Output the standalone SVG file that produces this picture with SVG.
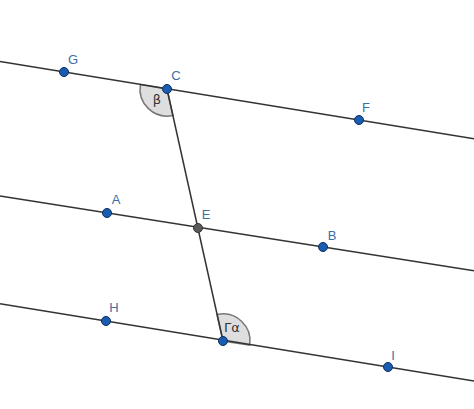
<svg xmlns="http://www.w3.org/2000/svg" width="474" height="409" viewBox="0 0 474 409">
<style>
.ln{stroke:#333;stroke-width:1.5;fill:none}
.ang{fill:#d6d6d6;fill-opacity:0.8;stroke:#777;stroke-width:1.5}
.pt{fill:#1a5cb0;stroke:#0d2f5e;stroke-width:1}
.pe{fill:#5a5a5a;stroke:#333;stroke-width:1}
.lb{font-family:"Liberation Sans",Arial,sans-serif;font-size:13px;fill:#3b6ea5;text-anchor:middle}
.al{font-family:"DejaVu Sans","Liberation Sans",sans-serif;font-size:13px;fill:#333;text-anchor:middle}
</style>
<rect width="474" height="409" fill="#fff"/>
<g id="angles">
<path class="ang" d="M167 89 L140.4 84.6 A27 27 0 0 0 172.9 115.4 Z"/>
<path class="ang" d="M223 341 L217.1 314.6 A27 27 0 0 1 249.7 345.2 Z"/>
</g>
<g id="connectors">
<line class="ln" x1="0" y1="61.6" x2="474" y2="138.7"/>
<line class="ln" x1="0" y1="196" x2="474" y2="270.7"/>
<line class="ln" x1="0" y1="303.7" x2="474" y2="381"/>
<line class="ln" x1="167" y1="89" x2="223" y2="341"/>
</g>
<g id="angle-labels">
<text class="al" x="157" y="104">β</text>
<text class="al" x="232" y="332">Γα</text>
</g>
<g id="G"><circle class="pt" cx="64" cy="72" r="4.5"/><text class="lb" x="73" y="64">G</text></g>
<g id="C"><circle class="pt" cx="167" cy="89" r="4.5"/><text class="lb" x="176" y="80">C</text></g>
<g id="F"><circle class="pt" cx="359" cy="120" r="4.5"/><text class="lb" x="366" y="112">F</text></g>
<g id="A"><circle class="pt" cx="107" cy="213" r="4.5"/><text class="lb" x="116" y="204">A</text></g>
<g id="E"><circle class="pe" cx="198" cy="228" r="4.5"/><text class="lb" x="206" y="219">E</text></g>
<g id="B"><circle class="pt" cx="323" cy="247" r="4.5"/><text class="lb" x="332" y="240">B</text></g>
<g id="H"><circle class="pt" cx="106" cy="321" r="4.5"/><text class="lb" x="114" y="312">H</text></g>
<g id="I"><circle class="pt" cx="388" cy="367" r="4.5"/><text class="lb" x="393" y="360">I</text></g>
<g id="D"><circle class="pt" cx="223" cy="341" r="4.5"/></g>
</svg>
